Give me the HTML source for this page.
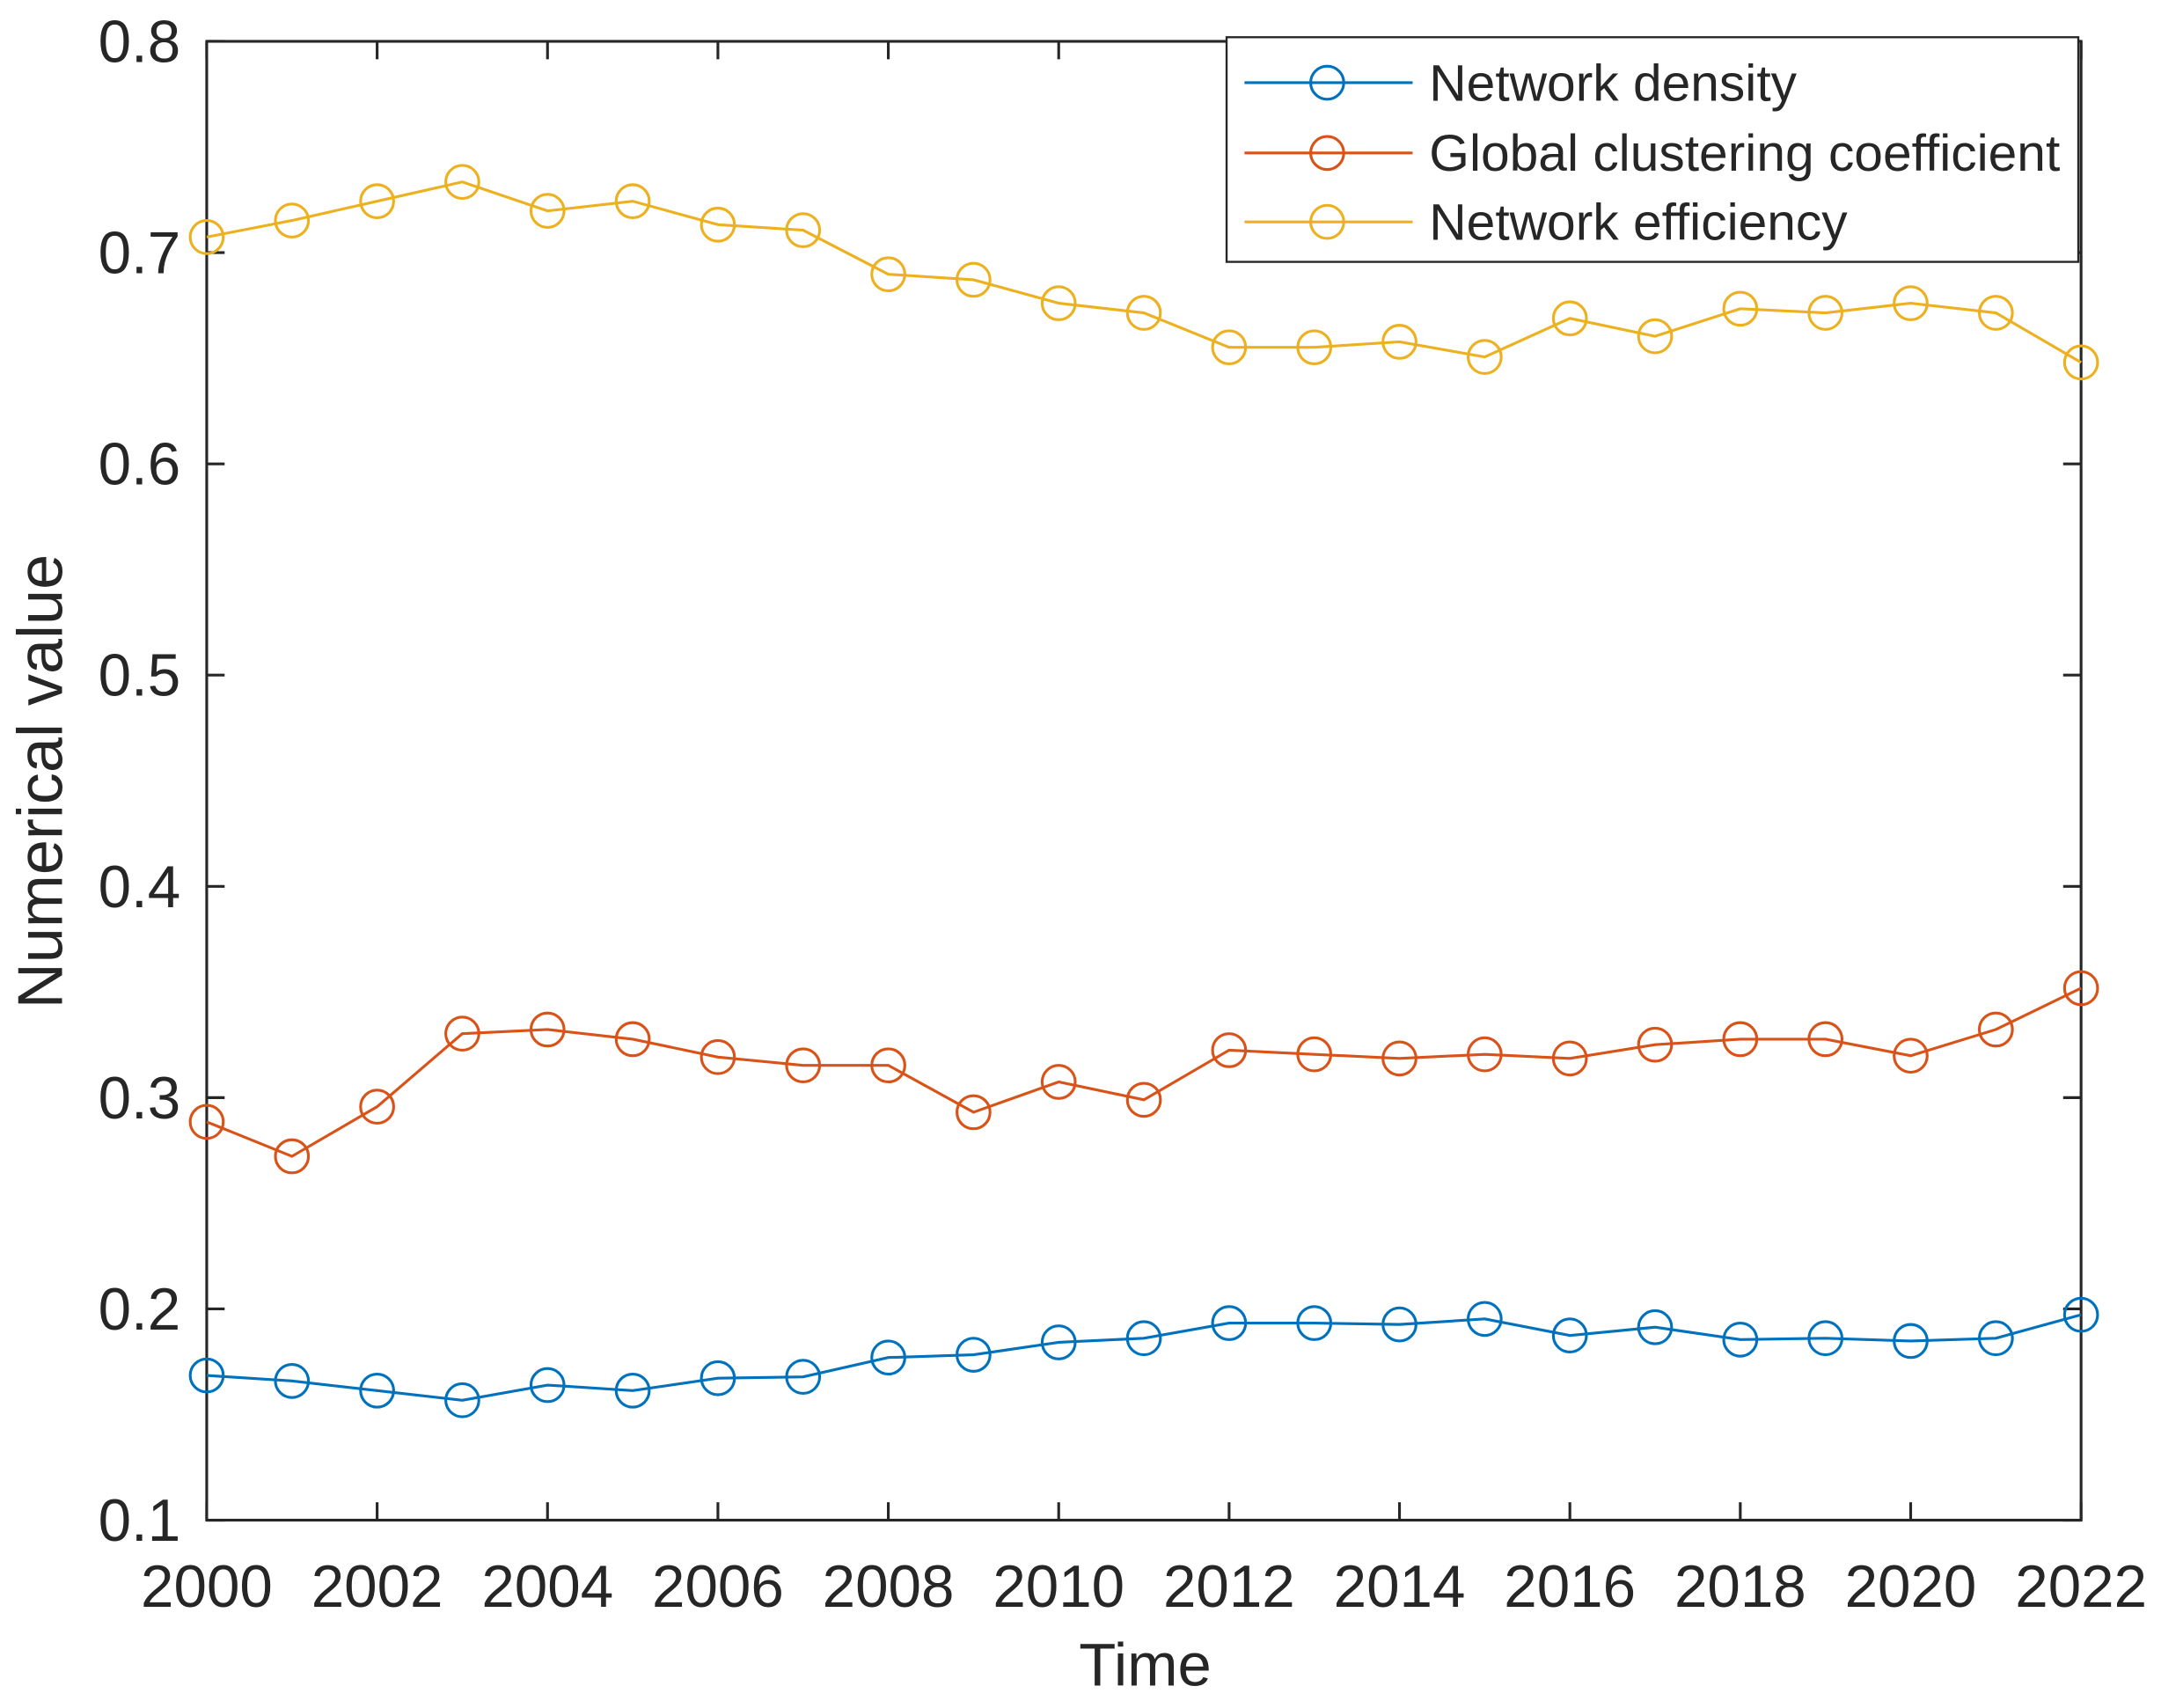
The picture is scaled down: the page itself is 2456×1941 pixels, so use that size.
<!DOCTYPE html>
<html><head><meta charset="utf-8"><style>
html,body{margin:0;padding:0;background:#fff;}
svg{display:block;}
text{font-family:"Liberation Sans",sans-serif;fill:#262626;}
</style></head><body>
<svg id="s" width="2456" height="1941" viewBox="0 0 1568 1239.3" preserveAspectRatio="none" xmlns="http://www.w3.org/2000/svg">
<rect x="150" y="30" width="1360" height="1073" fill="#fff" stroke="#262626" stroke-width="2"/>
<g id="ticks" stroke="#262626" stroke-width="2"></g>
<g id="labels" font-size="43"></g>
<text x="831" y="1223" font-size="44" text-anchor="middle">Time</text>
<text transform="translate(45,567) rotate(-90)" font-size="46" text-anchor="middle">Numerical value</text>
<g id="series"></g>
<rect x="890" y="27" width="618" height="163" fill="#fff" stroke="#262626" stroke-width="1.5"/>
<g stroke-width="2" fill="none">
<line x1="903" y1="60" x2="1025" y2="60" stroke="#0072BD"/><circle cx="963" cy="60" r="12" stroke="#0072BD"/>
<line x1="903" y1="111" x2="1025" y2="111" stroke="#D95319"/><circle cx="963" cy="111" r="12" stroke="#D95319"/>
<line x1="903" y1="161" x2="1025" y2="161" stroke="#EDB120"/><circle cx="963" cy="161" r="12" stroke="#EDB120"/>
</g>
<text x="1037" y="73" font-size="37.5">Network density</text>
<text x="1037" y="124" font-size="37.5">Global clustering coefficient</text>
<text x="1037" y="174" font-size="37.5">Network efficiency</text>
</svg>
<script>
var NS="http://www.w3.org/2000/svg";
function el(p,t,a,txt){var e=document.createElementNS(NS,t);for(var k in a)e.setAttribute(k,a[k]);if(txt)e.textContent=txt;p.appendChild(e);return e;}
var tk=document.getElementById('ticks'),lb=document.getElementById('labels'),sr=document.getElementById('series');
function X(i){return 150+i*1360/22;}
function Y(v){return 1103-(v-0.1)/0.7*1073;}
for(var i=0;i<=22;i+=2){var x=X(i);
el(tk,'line',{x1:x,y1:1103,x2:x,y2:1090});el(tk,'line',{x1:x,y1:30,x2:x,y2:43});
el(lb,'text',{x:x,y:1166,'text-anchor':'middle'},String(2000+i));}
for(var j=1;j<=8;j++){var v=j/10,y=Y(v);
el(tk,'line',{x1:150,y1:y,x2:163,y2:y});el(tk,'line',{x1:1510,y1:y,x2:1497,y2:y});
el(lb,'text',{x:131,y:y+15,'text-anchor':'end'},v.toFixed(1));}
var Yd=[172,160,146,132,153,146,163,167,199,203,220,227,252,252,248,259,231,244,224,227,220,227,263];
var Rd=[814,839,803,750,747,754,767,773,773,807,785,798,762,765,768,765,768,758,754,754,766,747,717];
var Bd=[998,1002,1009,1016,1005,1009,1000,999,985,983,974,971,960,960,961,957,969,963,972,971,973,971,954];
[[Bd,'#0072BD'],[Rd,'#D95319'],[Yd,'#EDB120']].forEach(function(s){
var pts=s[0].map(function(y,i){return X(i)+','+y;}).join(' ');
el(sr,'polyline',{points:pts,fill:'none',stroke:s[1],'stroke-width':2});
s[0].forEach(function(y,i){el(sr,'circle',{cx:X(i),cy:y,r:12,fill:'none',stroke:s[1],'stroke-width':2});});
});
</script>
</body></html>
